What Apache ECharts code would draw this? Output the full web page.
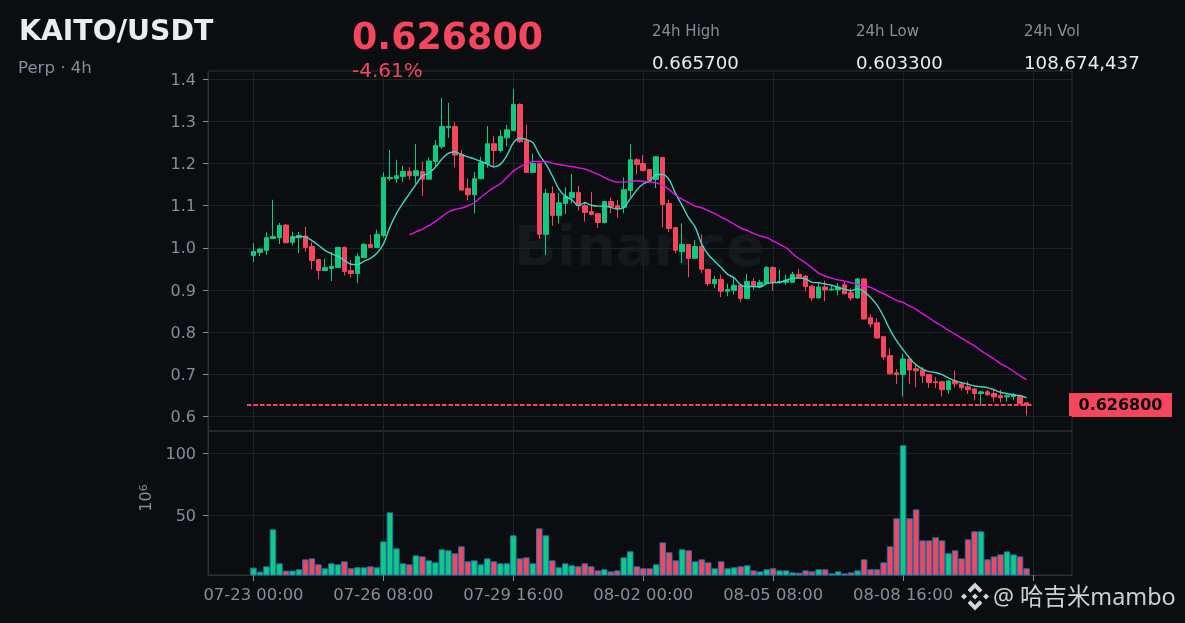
<!DOCTYPE html>
<html><head><meta charset="utf-8">
<style>html,body{margin:0;padding:0;background:#0b0e11}#c{width:1185px;height:623px}</style>
<script src="https://cdn.jsdelivr.net/npm/echarts@6/dist/echarts.min.js"></script>
</head><body><div id="c"></div>
<script>
const tickLabels=['07-23 00:00','07-26 08:00','07-29 16:00','08-02 00:00','08-05 08:00','08-08 16:00'];
const lastPrice=0.6268;
const open=[.982,.989,.994,1.022,1.024,1.054,1.013,1.024,1.028,1.003,.972,.946,.951,.953,1.001,.946,.939,.977,1.008,1.001,
1.029,1.164,1.164,1.169,1.181,1.171,1.181,1.163,1.205,1.240,1.285,1.288,1.222,1.141,1.126,1.164,1.200,1.247,1.231,1.261,
1.278,1.340,1.254,1.179,1.200,1.032,1.129,1.077,1.105,1.119,1.131,1.100,1.086,1.081,1.060,1.110,1.100,1.096,1.136,1.209,
1.200,1.186,1.162,1.214,1.105,1.048,.991,1.008,.975,1.003,.949,.915,.925,.897,.899,.911,.880,.920,.908,.915,
.953,.918,.918,.918,.937,.933,.909,.881,.907,.900,.900,.912,.893,.881,.926,.834,.822,.789,.744,.703,
.699,.736,.713,.710,.699,.682,.682,.663,.684,.677,.670,.665,.654,.658,.654,.649,.646,.647,.649,.632];
const close=[.991,.997,1.024,1.027,1.053,1.012,1.027,1.029,1.001,.970,.946,.953,.956,1.001,.944,.939,.979,1.008,1.001,1.032,
1.167,1.167,1.171,1.181,1.171,1.183,1.163,1.206,1.243,1.288,1.288,1.220,1.137,1.126,1.164,1.202,1.247,1.231,1.264,1.280,
1.340,1.252,1.179,1.200,1.032,1.129,1.077,1.107,1.122,1.131,1.100,1.084,1.079,1.060,1.110,1.098,1.093,1.138,1.209,1.198,
1.183,1.160,1.216,1.103,1.046,.994,1.008,.975,1.003,.949,.915,.925,.897,.901,.911,.880,.920,.908,.918,.953,
.918,.920,.923,.937,.929,.908,.881,.907,.900,.902,.907,.891,.881,.926,.831,.819,.786,.741,.701,.699,
.736,.710,.708,.696,.680,.680,.663,.684,.677,.668,.663,.654,.658,.651,.646,.644,.649,.651,.630,.6268];
const low=[.966,.980,.983,1.022,1.009,1.012,1.006,.987,.991,.949,.926,.945,.921,.953,.934,.930,.916,.977,1.001,1.001,
1.024,1.159,1.154,1.156,1.161,1.152,1.123,1.163,1.193,1.235,1.261,1.191,1.136,1.113,1.082,1.163,1.190,1.190,1.226,1.241,
1.278,1.250,1.179,1.179,1.021,.983,1.052,1.058,1.080,1.105,1.088,1.062,1.077,1.047,1.058,1.082,1.071,1.082,1.120,1.175,
1.183,1.156,1.142,1.049,1.037,.987,.964,.930,.975,.940,.909,.904,.883,.885,.889,.871,.880,.900,.904,.915,
.898,.915,.912,.917,.929,.896,.875,.881,.873,.898,.887,.889,.875,.879,.830,.811,.784,.734,.699,.677,
.647,.676,.669,.679,.668,.667,.647,.654,.668,.661,.653,.638,.625,.649,.635,.633,.635,.638,.630,.602];
const high=[1.011,.999,1.037,1.114,1.059,1.056,1.038,1.038,1.050,1.013,.972,.974,.990,1.001,1.003,.971,.987,1.011,1.031,1.043,
1.179,1.232,1.209,1.195,1.191,1.246,1.205,1.215,1.256,1.356,1.344,1.298,1.232,1.164,1.180,1.216,1.289,1.266,1.280,1.292,
1.377,1.343,1.292,1.224,1.200,1.140,1.146,1.130,1.144,1.175,1.147,1.109,1.133,1.082,1.111,1.119,1.114,1.167,1.246,1.213,
1.220,1.186,1.218,1.215,1.114,1.048,1.058,1.008,1.019,1.032,.950,.934,.936,.915,.928,.912,.938,.928,.924,.957,
.956,.948,.936,.943,.950,.935,.912,.916,.922,.909,.916,.919,.904,.928,.928,.842,.833,.789,.762,.712,
.749,.736,.726,.717,.699,.693,.684,.685,.709,.679,.683,.667,.661,.663,.661,.663,.652,.655,.652,.632];
const volume=[7.8,4.6,8.9,38.7,11.3,5.4,5.4,6.5,14.5,15.3,10.5,7.3,11.3,10.5,12.9,7.3,8.1,8.1,8.9,8.1,
29,52.4,23.4,11.3,10.5,17.7,16.9,13.7,12.1,22.6,21.8,19.4,25,12.9,13.7,10.5,15.3,12.9,11.3,11.3,
33.9,15.3,16.1,11.3,39.5,33.9,13.7,8.1,11.3,9.7,8.9,11.3,8.9,5.6,6.5,4.8,5.6,16.1,21,8.9,
7.3,7.3,10.5,28.2,20.2,13.7,22.6,21.8,12.9,14.5,12.1,7.3,12.9,7.3,8.1,8.9,9.7,5.6,4.8,6.5,
7.3,5.6,5.6,4,3.8,5.6,4.8,6.5,6.5,3.2,4.8,3.2,4,5.6,14.5,6.5,6.5,12.1,25,47.6,
106.5,47.6,54.8,29.8,29.8,32.3,29.8,19.4,21.8,15.3,30.6,37.1,37.1,14.5,16.9,18.5,20.9,18.5,16.9,7.3];
const ma7=[1.022,1.027,1.026,1.017,1.006,.994,.986,.980,.970,.961,.960,.968,.975,.987,
1.009,1.049,1.081,1.106,1.128,1.150,1.171,1.177,1.191,1.211,1.224,1.228,1.221,1.216,1.211,1.205,1.199,1.192,1.198,1.219,
1.249,1.260,1.257,1.250,1.221,1.199,1.171,1.140,1.122,1.114,1.100,1.107,1.101,1.099,1.099,1.096,1.092,1.096,1.116,1.137,
1.152,1.158,1.174,1.174,1.161,1.128,1.100,1.071,1.049,1.009,.984,.968,.953,.937,.929,.912,.908,.908,.907,.915,
.917,.918,.923,.928,.928,.926,.918,.917,.914,.911,.906,.902,.898,.903,.896,.882,.864,.837,.805,.779,
.758,.738,.722,.712,.706,.704,.699,.691,.684,.680,.676,.672,.670,.668,.663,.657,.654,.651,.649,.644];
const ma25=[1.031,1.038,1.044,1.053,1.062,1.074,1.085,1.091,1.094,1.100,1.107,1.120,1.132,1.143,1.152,1.167,
1.182,1.192,1.199,1.205,1.205,1.205,1.201,1.198,1.195,1.193,1.190,1.187,1.181,1.175,1.167,1.160,1.156,1.156,1.157,1.159,
1.158,1.156,1.154,1.148,1.138,1.125,1.115,1.107,1.099,1.095,1.088,1.081,1.073,1.065,1.056,1.047,1.041,1.034,1.028,1.024,
1.016,1.008,1.0,.986,.974,.964,.952,.940,.933,.928,.924,.921,.917,.913,.909,.906,.898,.891,.883,.875,
.870,.862,.854,.843,.834,.823,.814,.804,.795,.785,.776,.767,.756,.746,.736,.725,.717,.707,.696,.687];

const UP='#0ecb81',DOWN='#f6465d',MUTED='#848e9c',GRID='#1e2329',AXIS='#2b3139',FONT='"DejaVu Sans"';
const LEAD=7,TAIL=7,N=open.length+LEAD+TAIL;
const isMajor=i=>(i-LEAD)%20===0;
const categories=Array.from({length:N},(_,i)=>isMajor(i)?(tickLabels[(i-LEAD)/20]||''):'');
const pad=(arr,extra)=>[...Array(LEAD+extra).fill(null),...arr];
const candles=pad(open.map((o,i)=>[o,close[i],low[i],high[i]]),0).map(v=>v===null?'-':v);
const bars=pad(volume.map((v,i)=>({value:v,itemStyle:{color:close[i]>=open[i]?UP:DOWN}})),0).map(v=>v===null?'-':v);
const txt=(x,y,text,size,fill,weight,extra)=>({type:'text',x,y,silent:true,style:Object.assign({text,fontSize:size,fill,fontWeight:weight||'normal',fontFamily:FONT,verticalAlign:'middle'},extra||{})});
const poly=pts=>({type:'polygon',shape:{points:pts},style:{fill:'#d6d6d6'},silent:true});
const xBase=(idx,show)=>({type:'category',gridIndex:idx,data:categories,boundaryGap:false,
  axisLine:{show:idx===1,onZero:false,lineStyle:{color:AXIS,width:1}},
  axisTick:{show:idx===1,interval:i=>isMajor(i),length:6,lineStyle:{color:MUTED}},
  axisLabel:{show:show,interval:i=>isMajor(i)&&categories[i]!=='',color:MUTED,fontSize:16.4,fontFamily:FONT,margin:13,hideOverlap:false},
  splitLine:{show:true,interval:i=>isMajor(i),lineStyle:{color:GRID,width:1}}});
const yBase=(idx,min,max,vals,fmt,lh)=>({type:'value',gridIndex:idx,min,max,scale:true,
  axisLine:{show:true,onZero:false,lineStyle:{color:AXIS}},
  axisTick:{show:true,length:5,lineStyle:{color:MUTED},customValues:vals},
  axisLabel:{color:MUTED,fontSize:16,fontFamily:FONT,margin:12,verticalAlign:'top',lineHeight:lh,customValues:vals,formatter:fmt,showMinLabel:true,showMaxLabel:true},
  splitLine:{show:true,lineStyle:{color:GRID,width:1}}});
const y1=yBase(0,0.5651,1.4197,[.6,.7,.8,.9,1,1.1,1.2,1.3,1.4],v=>v.toFixed(1),3);
const y2=yBase(1,1.9,118,[50,100],v=>String(v),4);
y2.name='{a|10}{b|6}';y2.nameLocation='middle';y2.nameRotate=90;y2.nameGap=53;
y2.nameTextStyle={padding:[0,0,0,10],rich:{a:{fontSize:16,color:MUTED,fontFamily:FONT},b:{fontSize:11,color:MUTED,fontFamily:FONT,verticalAlign:'top',lineHeight:14}}};

const chart=echarts.init(document.getElementById('c'),null,{renderer:'canvas'});
chart.setOption({
  backgroundColor:'#0b0e11',animation:false,
  grid:[{left:208,top:71,width:864,height:360,show:true,borderColor:AXIS,borderWidth:1,backgroundColor:'transparent'},
        {left:208,top:431,width:864,height:144,show:true,borderColor:AXIS,borderWidth:1,backgroundColor:'transparent'}],
  xAxis:[xBase(0,false),xBase(1,true)],
  yAxis:[y1,y2],
  series:[
    {type:'candlestick',name:'KAITO/USDT',xAxisIndex:0,yAxisIndex:0,data:candles,barWidth:5,z:3,
     itemStyle:{color:UP,color0:DOWN,borderColor:UP,borderColor0:DOWN,borderWidth:1},
     markLine:{silent:true,symbol:'none',label:{show:false},animation:false,z:6,
       lineStyle:{color:DOWN,type:[4.5,2],width:2},
       data:[[{coord:[6,lastPrice]},{coord:[127,lastPrice]}]]}},
    {type:'line',name:'MA7',xAxisIndex:0,yAxisIndex:0,data:pad(ma7,6),showSymbol:false,smooth:0.3,z:4,lineStyle:{color:'#42d6c6',width:1.4},itemStyle:{color:'#42d6c6'}},
    {type:'line',name:'MA25',xAxisIndex:0,yAxisIndex:0,data:pad(ma25,24),showSymbol:false,smooth:0.3,z:4,lineStyle:{color:'#e810e8',width:1.4},itemStyle:{color:'#e810e8'}},
    {type:'bar',name:'Volume',xAxisIndex:1,yAxisIndex:1,data:bars,barWidth:6.5,itemStyle:{borderColor:'#1f77b4',borderWidth:1}}
  ],
  graphic:[
    txt(514,250,'Binance',56,'#14191e','bold'),
    txt(19,33,'KAITO/USDT',28.3,'#eaecef','bold'),
    txt(18,69,'Perp · 4h',16.6,MUTED),
    txt(352,40,'0.626800',36.4,DOWN,'bold'),
    txt(352,72,'-4.61%',20,DOWN),
    txt(652,32,'24h High',15,MUTED),txt(652,64,'0.665700',18.2,'#eaecef'),
    txt(856,32,'24h Low',15,MUTED),txt(856,64,'0.603300',18.2,'#eaecef'),
    txt(1024,32,'24h Vol',15,MUTED),txt(1024,64,'108,674,437',18.2,'#eaecef'),
    {type:'rect',shape:{x:1069,y:393,width:103,height:24},style:{fill:DOWN},silent:true},
    txt(1120.5,405.5,'0.626800',16,'#0b0e11','bold',{align:'center'}),
    {type:'group',x:975,y:596.5,children:[
      poly([[0,-14],[7.4,-6.6],[4.6,-3.8],[0,-8.4],[-4.6,-3.8],[-7.4,-6.6]]),
      poly([[0,14],[7.4,6.6],[4.6,3.8],[0,8.4],[-4.6,3.8],[-7.4,6.6]]),
      poly([[-14,0],[-11,-3],[-8,0],[-11,3]]),
      poly([[14,0],[11,-3],[8,0],[11,3]]),
      poly([[0,-3.1],[3.1,0],[0,3.1],[-3.1,0]])
    ]},
    {type:'text',x:993,y:598,silent:true,style:{text:'@ 哈吉米mambo',fontSize:23.4,fill:'#cfcfcf',fontFamily:'"Noto Sans","Noto Sans CJK SC"',verticalAlign:'middle'}}
  ]
});
</script></body></html>
